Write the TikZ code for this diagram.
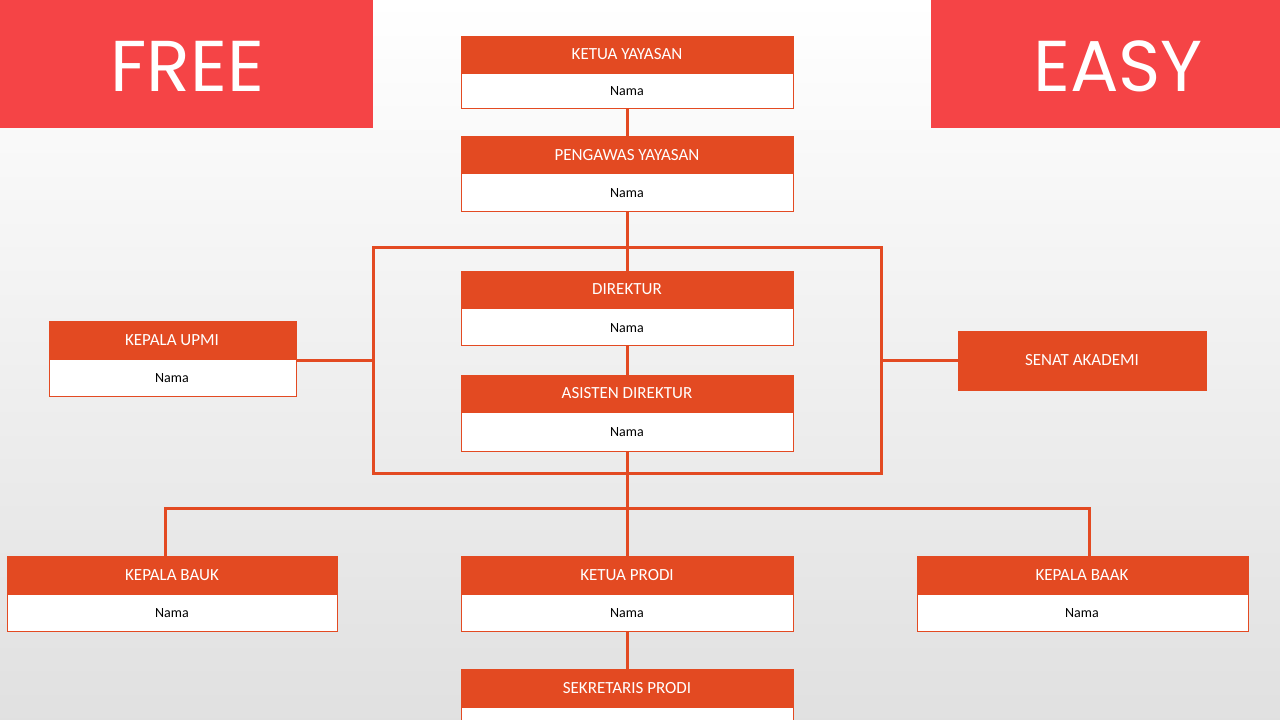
\documentclass[tikz,border=0pt]{standalone}
\usepackage{fontspec}
\setmainfont{Carlito}
\newfontfamily\banner{Poppins}
\definecolor{org}{HTML}{E34A22}
\definecolor{ban}{HTML}{F54446}
\begin{document}
\begin{tikzpicture}[x=1pt,y=-1pt,
  hd/.style={fill=org,draw=org,line width=1pt},
  bd/.style={fill=white,draw=org,line width=1pt},
  ht/.style={text=white,font=\fontsize{17}{17}\selectfont},
  nt/.style={text=black,font=\fontsize{14}{14}\selectfont},
  ln/.style={draw=org,line width=3pt}]
\useasboundingbox (0,0) rectangle (1280,720);
\shade[top color=white,bottom color=black!12] (0,0) rectangle (1280,720);
% connectors
\draw[ln] (627,108) -- (627,136);
\draw[ln] (627,211) -- (627,271);
\draw[ln] (627,345) -- (627,375);
\draw[ln] (627,451) -- (627,669);
\draw[ln] (373,247) rectangle (881,473);
\draw[ln] (296,360) -- (373,360);
\draw[ln] (881,360) -- (958,360);
\draw[ln] (165,556) -- (165,508) -- (1089,508) -- (1089,556);
% boxes
\newcommand{\obox}[6]{% x1 x2 ytop ymid ybot name
  \draw[bd] (#1,#4) rectangle (#2,#5);
  \draw[hd] (#1,#3) rectangle (#2,#4);}
\obox{461}{793}{36}{73}{108}{}
\node[ht] (k1) at (627,54) {KETUA YAYASAN};
\node[nt] (n1) at (627,91) {Nama};
\obox{461}{793}{136}{173}{211}{}
\node[ht] (k2) at (627,155) {PENGAWAS YAYASAN};
\node[nt] (n2) at (627,193) {Nama};
\obox{461}{793}{271}{308}{345}{}
\node[ht] (k3) at (627,289) {DIREKTUR};
\node[nt] (n3) at (627,328) {Nama};
\obox{461}{793}{375}{412}{451}{}
\node[ht] (k4) at (627,393) {ASISTEN DIREKTUR};
\node[nt] (n4) at (627,432) {Nama};
\obox{49}{296}{321}{359}{396}{}
\node[ht] (k5) at (172,340) {KEPALA UPMI};
\node[nt] (n5) at (172,378) {Nama};
\draw[hd] (958,331) rectangle (1206,390);
\node[ht] (k6) at (1082,360) {SENAT AKADEMI};
\obox{7}{337}{556}{594}{631}{}
\node[ht] (k7) at (172,575) {KEPALA BAUK};
\node[nt] (n7) at (172,613) {Nama};
\obox{461}{793}{556}{594}{631}{}
\node[ht] (k8) at (627,575) {KETUA PRODI};
\node[nt] (n8) at (627,613) {Nama};
\obox{917}{1248}{556}{594}{631}{}
\node[ht] (k9) at (1082,575) {KEPALA BAAK};
\node[nt] (n9) at (1082,613) {Nama};
\obox{461}{793}{669}{707}{740}{}
\node[ht] (k10) at (627,688) {SEKRETARIS PRODI};
% banners
\fill[ban] (0,0) rectangle (373,128);
\fill[ban] (931,0) rectangle (1280,128);
\node[text=white,font=\banner\fontsize{72}{72}\selectfont] (free) at (187,66) {FREE};
\node[text=white,font=\banner\fontsize{72}{72}\selectfont] (easy) at (1118,66) {EASY};
\end{tikzpicture}
\end{document}
